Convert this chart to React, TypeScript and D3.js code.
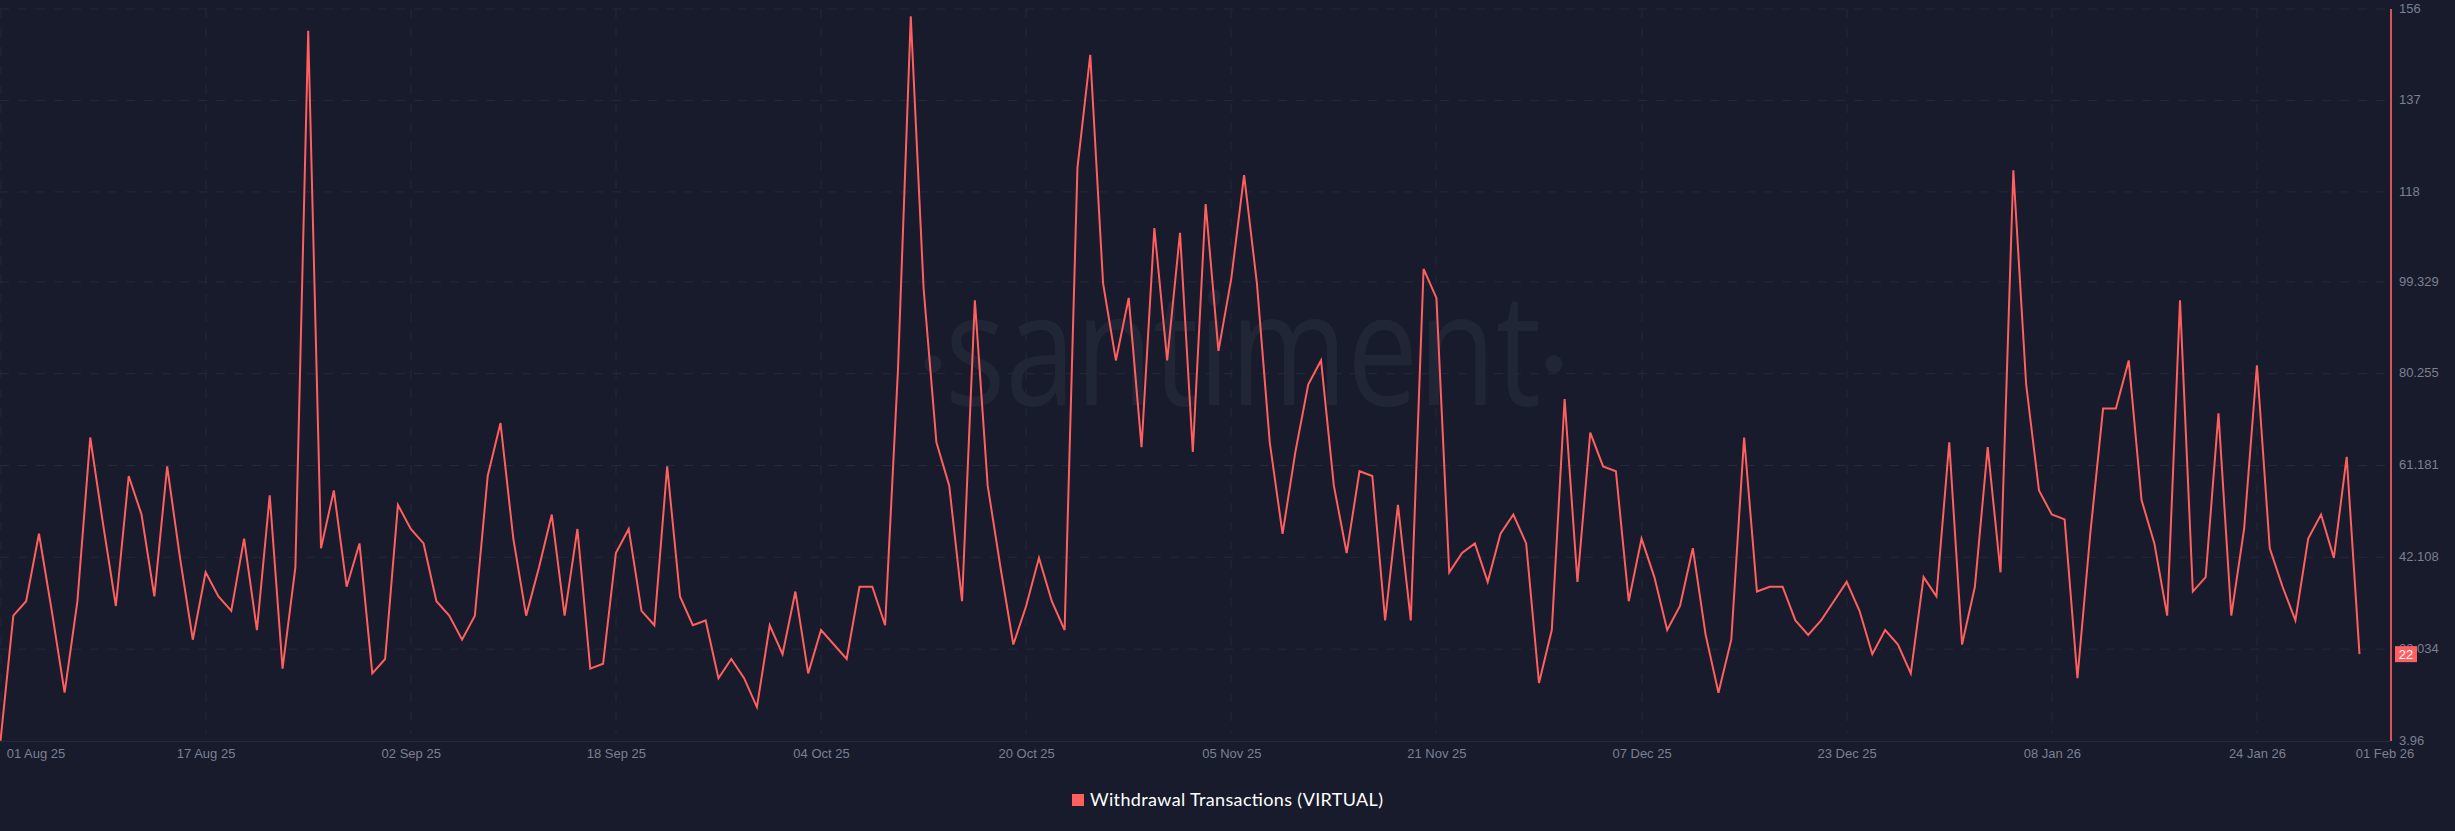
import React, { useEffect, useRef } from "react";
import * as d3 from "d3";

const width = 2455;
const height = 831;

const seriesName = "Withdrawal Transactions (VIRTUAL)";
const startDate = new Date(Date.UTC(2025, 7, 1));

// one value per day, 01 Aug 25 to 01 Feb 26
const withdrawals = [
  4, 30, 33, 47, 31, 14, 33, 67, 49, 32, 59, 51, 34, 61, 42, 25, 39, 34, 31, 46,
  27, 55, 19, 40, 151.5, 44, 56, 36, 45, 18, 21, 53, 48, 45, 33, 30, 25, 30, 59, 70,
  46, 30, 40, 51, 30, 48, 19, 20, 43, 48, 31, 28, 61, 34, 28, 29, 17, 21, 17, 11,
  28, 22, 35, 18, 27, 24, 21, 36, 36, 28, 81, 154.5, 98, 66, 57, 33, 95.5, 57, 40, 24,
  32, 42, 33, 27, 123, 146.5, 99, 83, 96, 65, 110.5, 83, 109.5, 64, 115.5, 85, 100, 121.5, 99, 66,
  47, 64, 78, 83, 57, 43, 60, 59, 29, 53, 29, 102, 96, 39, 43, 45, 37, 47, 51, 45,
  16, 27, 75, 37, 68, 61, 60, 33, 46, 38, 27, 32, 44, 26, 14, 25, 67, 35, 36, 36,
  29, 26, 29, 33, 37, 31, 22, 27, 24, 18, 38, 34, 66, 24, 36, 65, 39, 122.5, 78, 56,
  51, 50, 17, 47, 73, 73, 83, 54, 45, 30, 95.5, 35, 38, 72, 30, 48, 82, 44, 36, 29,
  46, 51, 42, 63, 22,
];

const yTicks = [156, 137, 118, 99.329, 80.255, 61.181, 42.108, 23.034, 3.96];
const xTickDays = [0, 16, 32, 48, 64, 80, 96, 112, 128, 144, 160, 176];
const lastDay = 184;

const bg = "#171b2b";
const red = "#ff5f5f";
const gridColor = "#252a3a";
const tickColor = "#7b8093";
const markColor = "#212636";

const App = () => {
  const ref = useRef<SVGSVGElement>(null);

  useEffect(() => {
    const svg = d3.select(ref.current);
    svg.selectAll("*").remove();

    const dateAt = (i: number) => d3.utcDay.offset(startDate, i);
    const x = d3.scaleUtc().domain([startDate, dateAt(lastDay)]).range([0.5, 2359.5]);
    const y = d3.scaleLinear().domain([3.96, 156]).range([741, 9]);
    const fmt = d3.utcFormat("%d %b %y");

    svg.append("rect").attr("width", width).attr("height", height).attr("fill", bg);

    // watermark, the two dots sit lower than a middle dot would
    svg
      .append("text")
      .attr("x", 945)
      .attr("y", 405)
      .attr("font-family", "'Open Sans'")
      .attr("font-size", 157)
      .attr("fill", markColor)
      .attr("textLength", 596)
      .attr("lengthAdjust", "spacingAndGlyphs")
      .text("santiment");
    svg
      .selectAll("ellipse.mark")
      .data([933, 1554])
      .enter()
      .append("ellipse")
      .attr("class", "mark")
      .attr("cx", (d) => d)
      .attr("cy", 364)
      .attr("rx", 8.5)
      .attr("ry", 9)
      .attr("fill", markColor);

    // grid
    const grid = svg.append("g").attr("stroke", gridColor).attr("fill", "none");
    grid
      .selectAll("line.h")
      .data(yTicks)
      .enter()
      .append("line")
      .attr("class", "h")
      .attr("x1", 0)
      .attr("x2", 2391)
      .attr("y1", (d) => y(d))
      .attr("y2", (d) => y(d))
      .attr("stroke-dasharray", "9 9")
      .attr("display", (d) => (d === 3.96 ? "none" : null));
    grid
      .selectAll("line.v")
      .data(xTickDays)
      .enter()
      .append("line")
      .attr("class", "v")
      .attr("x1", (d) => Math.round(x(dateAt(d))))
      .attr("x2", (d) => Math.round(x(dateAt(d))))
      .attr("y1", 9)
      .attr("y2", 734)
      .attr("stroke-dasharray", "9 10");

    // x axis
    const xAxis = d3
      .axisBottom(x)
      .tickValues([...xTickDays, lastDay].map(dateAt))
      .tickFormat((d) => fmt(d as Date))
      .tickSize(0)
      .tickPadding(8);
    const gx = svg.append("g").attr("transform", "translate(0,741)").call(xAxis);
    gx.select(".domain").attr("stroke", gridColor).attr("d", "M0,0.5H2391");
    gx.selectAll("text")
      .attr("fill", tickColor)
      .attr("font-family", "'Liberation Sans'")
      .attr("font-size", 13)
      .attr("dx", (d, i) => (i === 0 ? 35 : i === xTickDays.length ? 25 : 0));

    // y axis
    const yAxis = d3
      .axisRight(y)
      .tickValues(yTicks)
      .tickFormat((d) => `${d}`)
      .tickSize(0)
      .tickPadding(8);
    const gy = svg.append("g").attr("transform", "translate(2391,-1)").call(yAxis);
    gy.select(".domain").remove();
    gy.selectAll("text")
      .attr("fill", tickColor)
      .attr("font-family", "'Liberation Sans'")
      .attr("font-size", 13);

    svg
      .append("line")
      .attr("x1", 2391)
      .attr("x2", 2391)
      .attr("y1", y(156))
      .attr("y2", y(3.96))
      .attr("stroke", "#d9535b")
      .attr("stroke-width", 2);

    // series
    const line = d3
      .line<number>()
      .x((d, i) => x(dateAt(i)))
      .y((d) => y(d));
    svg
      .append("path")
      .datum(withdrawals)
      .attr("d", line)
      .attr("fill", "none")
      .attr("stroke", red)
      .attr("stroke-width", 2)
      .attr("stroke-linejoin", "miter");

    // last value tag
    const last = withdrawals[withdrawals.length - 1];
    svg
      .append("rect")
      .attr("x", 2395)
      .attr("y", y(last) - 8)
      .attr("width", 22)
      .attr("height", 16)
      .attr("fill", red);
    svg
      .append("text")
      .attr("x", 2406)
      .attr("y", y(last) + 4.5)
      .attr("text-anchor", "middle")
      .attr("fill", "#fff")
      .attr("font-family", "'Liberation Sans'")
      .attr("font-size", 13)
      .text(last);

    // legend
    svg
      .append("rect")
      .attr("x", 1072)
      .attr("y", 794)
      .attr("width", 12)
      .attr("height", 12)
      .attr("fill", red);
    svg
      .append("text")
      .attr("x", 1090)
      .attr("y", 806)
      .attr("fill", "#fff")
      .attr("font-family", "Lato")
      .attr("font-size", 18)
      .attr("textLength", 293)
      .text(seriesName);
  }, []);

  return (
    <svg
      ref={ref}
      width={width}
      height={height}
      style={{ position: "fixed", left: 0, top: 0, display: "block" }}
    />
  );
};

export default App;
